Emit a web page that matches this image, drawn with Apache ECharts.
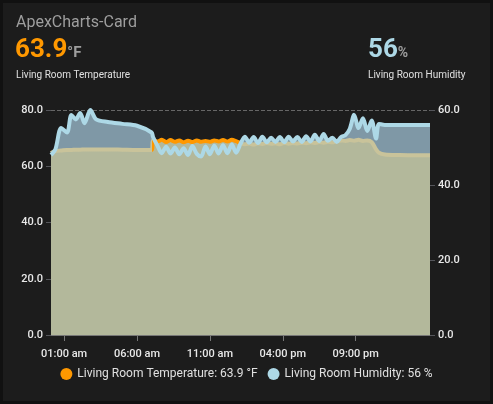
<!DOCTYPE html><html><head><meta charset="utf-8">
<script src="https://cdn.jsdelivr.net/npm/echarts@6/dist/echarts.min.js"></script>
<style>html,body{margin:0;background:#111;}#c{position:absolute;left:3px;top:3px;width:487px;height:398px;background:#1c1c1c;border-radius:4px;}</style>
</head><body><div id="c"></div><script>
const hours = [0.1,0.4,0.8,1.2,1.5,1.8,2.1,2.4,2.8,3.2,4,5,6,7,7.1,7.4,7.7,8,8.3,8.6,8.9,9.2,9.5,9.8,10.1,10.4,10.7,11,11.3,11.6,11.9,12.2,12.5,12.8,13.1,13.4,13.7,14,14.3,14.6,14.9,15.2,15.5,15.8,16.1,16.4,16.7,17,17.3,17.6,17.9,18.2,18.5,18.8,19.1,19.4,19.7,20,20.3,20.6,20.9,21.2,21.5,21.8,22.1,22.4,22.6,23,24,25,26.1];
const humidity = [48,49.5,55.2,54,58.7,57.5,59.2,56.5,60,57.5,56.8,56.3,55.8,54,52.8,50.5,48.5,50.2,48.4,50,48.2,49.8,48,50.4,48.3,47.6,50.3,48.2,50.5,48.4,50.6,48.5,50.8,48.6,51,52.9,51.3,52.8,51.2,52.9,51.4,52.6,51.5,52.8,51.4,52.9,51.6,52.8,51.5,53,51.6,53.4,51.7,53.6,51.8,52.6,51.5,52.8,53.3,55,58.7,55.2,57.8,54.4,57.2,52.4,56.3,56,56,56,56];
const temperature = [64.7,65.4,65.6,65.8,65.8,65.9,65.9,66,66,66,66,65.9,65.8,65.8,69.3,68.8,69.4,68.6,69.3,68.7,69.2,68.5,69.1,68.6,69.2,68.7,69,68.7,69.2,68.8,69.3,68.8,69.4,68.9,68.2,67.8,68.1,67.7,68.2,67.9,68.3,68,68.2,67.8,68.4,68,68.3,68.1,68.4,68.2,68.5,68.3,68.6,68.4,68.7,68.5,69,69.2,69,69.3,69.1,69.4,69,69.2,68.6,66,64.8,64.2,64,63.9,63.9];
const xTicks = [1,6,11,16,21];
const xTickLabels = ['01:00 am','06:00 am','11:00 am','04:00 pm','09:00 pm'];
const tempData = hours.map((h,i)=>[h,temperature[i]]);
const humData = hours.map((h,i)=>[h,humidity[i]]);
const lbl = {color:'#e8e8e8',fontSize:11,fontWeight:500,fontFamily:'Roboto'};
const chart = echarts.init(document.getElementById('c'));
chart.setOption({
  backgroundColor:'#1c1c1c',
  title:[
    {text:'ApexCharts-Card',left:8,top:7,textStyle:{color:'#9e9e9e',fontSize:16,fontWeight:'normal',fontFamily:'Roboto'}},
    {text:'{a|63.9}{b|°F}',left:7,top:29,textStyle:{rich:{a:{color:'#ff9800',fontSize:26,fontFamily:'Roboto'},b:{color:'#9e9e9e',fontSize:15,fontFamily:'Roboto',padding:[7,0,0,0]}}}},
    {text:'Living Room Temperature',left:8,top:62,textStyle:{color:'#e0e0e0',fontSize:10,fontWeight:'normal',fontFamily:'Roboto'}},
    {text:'{a|56}{b|%}',left:360,top:29,textStyle:{rich:{a:{color:'#add8e6',fontSize:26,fontFamily:'Roboto'},b:{color:'#9e9e9e',fontSize:14,fontFamily:'Roboto',padding:[7,0,0,0]}}}},
    {text:'Living Room Humidity',left:360,top:62,textStyle:{color:'#e0e0e0',fontSize:10,fontWeight:'normal',fontFamily:'Roboto'}}
  ],
  legend:{bottom:16,left:'center',icon:'circle',itemWidth:12,itemHeight:12,itemGap:10,
    textStyle:{color:'#e0e0e0',fontSize:12,fontFamily:'Roboto'},
    data:[{name:'Living Room Temperature: 63.9 °F',itemStyle:{color:'#ff9800'}},{name:'Living Room Humidity: 56 %',itemStyle:{color:'#add8e6'}}]},
  grid:{left:48,right:60,top:107,bottom:66},
  xAxis:{type:'value',min:0.1,max:26.1,
    axisLine:{show:true,lineStyle:{color:'#777'}},axisTick:{show:true,customValues:xTicks,length:6,lineStyle:{color:'#777'}},splitLine:{show:false},
    axisLabel:Object.assign({customValues:xTicks,margin:14,formatter:v=>xTickLabels[xTicks.indexOf(v)]},lbl)},
  yAxis:[
    {type:'value',min:0,max:80,interval:20,axisLabel:Object.assign({formatter:v=>v.toFixed(1)},lbl),axisLine:{show:false},
     splitLine:{lineStyle:{color:'#666',type:'dashed'}}},
    {type:'value',min:0,max:60,interval:20,axisLabel:Object.assign({formatter:v=>v.toFixed(1)},lbl),axisLine:{show:false},splitLine:{show:false}}
  ],
  visualMap:{show:false,type:'piecewise',dimension:0,seriesIndex:1,pieces:[{gt:7.05,lt:13.2,color:'#ff9800'}],outOfRange:{color:'#c9c39a'}},
  series:[
    {name:'Living Room Humidity: 56 %',type:'line',yAxisIndex:1,data:humData,showSymbol:false,z:1,lineStyle:{width:0},areaStyle:{color:'#7f98a6',opacity:1},itemStyle:{color:'#add8e6'},silent:true},
    {name:'Living Room Temperature: 63.9 °F',type:'line',yAxisIndex:0,data:tempData,showSymbol:false,smooth:0.3,z:2,lineStyle:{width:4},areaStyle:{color:'#b3b89b',opacity:1},itemStyle:{color:'#ff9800'}},
    {name:'Living Room Humidity: 56 %',type:'line',yAxisIndex:1,data:humData,showSymbol:false,smooth:0.3,z:3,lineStyle:{width:4,color:'#add8e6'},itemStyle:{color:'#add8e6'}}
  ]
});
</script></body></html>
